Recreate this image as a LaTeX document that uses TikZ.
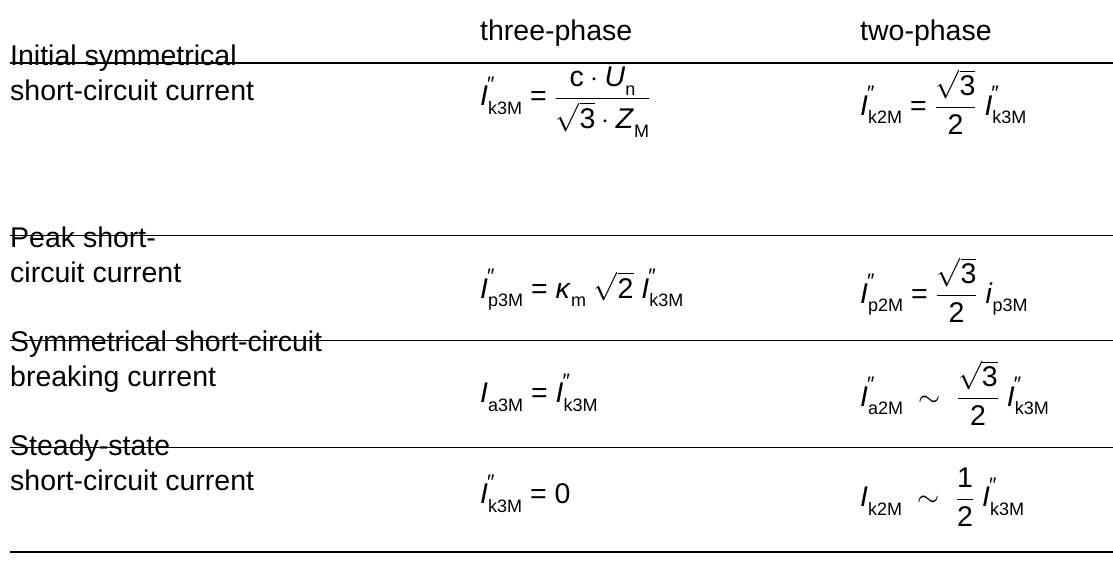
\RequirePackage{fix-cm}
\documentclass[tikz,border=0pt]{standalone}
\usepackage{amsmath}
\usepackage{fontspec}
\setmainfont{Liberation Sans}
\newcommand\subf{\fontsize{18}{18}\selectfont}
\newcommand\Ip[2][I]{\mbox{\textit{#1}\rlap{\kern-2pt\raisebox{.5em}{\fontsize{21}{21}\selectfont\textit{″}}}\raisebox{-.3em}{\subf #2}}}
\newcommand\In[2][I]{\mbox{\textit{#1}\raisebox{-.3em}{\subf #2}}}
\newcommand\tx[1]{\mbox{#1}}
\begin{document}
\begin{tikzpicture}[x=1pt,y=-1pt,
  every node/.style={font=\fontsize{28.5}{35}\selectfont, inner sep=0pt},
  lab/.style={anchor=base west, align=left},
  eq/.style={anchor=west},
  rule/.style={line width=1pt}]
\useasboundingbox (0,0) rectangle (1113,566);
\node[anchor=base west] (h1) at (480,40) {three-phase};
\node[anchor=base west] (h2) at (860,40) {two-phase};
\draw[rule,line width=1.5pt] (10,63) -- (1113,63);
\draw[rule] (10,235) -- (1113,235);
\draw[rule] (10,340) -- (1113,340);
\draw[rule] (10,447) -- (1113,447);
\draw[rule,line width=1.5pt] (10,552) -- (1113,552);
\node[lab] (l1) at (10,100) {Initial symmetrical\\short-circuit current};
\node[lab] (l2) at (10,282) {Peak short-\\circuit current};
\node[lab] (l3) at (10,386) {Symmetrical short-circuit\\breaking current};
\node[lab] (l4) at (10,490) {Steady-state\\short-circuit current};
\node[eq] (a1) at (480,102) {$\Ip{k3M}\;\tx{=}\;\dfrac{\tx{c}\cdot\In[U]{n}}{\sqrt{\tx{3}}\cdot\In[Z]{M}}$};
\node[eq] (b1) at (860,102) {$\Ip{k2M}\;\tx{=}\;\dfrac{\sqrt{\tx{3}}}{\tx{2}}\;\Ip{k3M}$};
\node[eq] (a2) at (480,290) {$\Ip{p3M}\;\tx{=}\;\mbox{\textit{κ}\raisebox{-.3em}{\subf m}}\;\sqrt{\tx{2}}\;\Ip{k3M}$};
\node[eq] (b2) at (860,290) {$\Ip{p2M}\;\tx{=}\;\dfrac{\sqrt{\tx{3}}}{\tx{2}}\;\In[i]{p3M}$};
\node[eq] (a3) at (480,393) {$\In{a3M}\;\tx{=}\;\Ip{k3M}$};
\node[eq] (b3) at (860,393) {$\Ip{a2M}\;\sim\;\dfrac{\sqrt{\tx{3}}}{\tx{2}}\;\Ip{k3M}$};
\node[eq] (a4) at (480,494) {$\Ip{k3M}\;\tx{=}\;\tx{0}$};
\node[eq] (b4) at (860,497) {$\In{k2M}\;\sim\;\dfrac{\tx{1}}{\tx{2}}\;\Ip{k3M}$};
\end{tikzpicture}
\end{document}
